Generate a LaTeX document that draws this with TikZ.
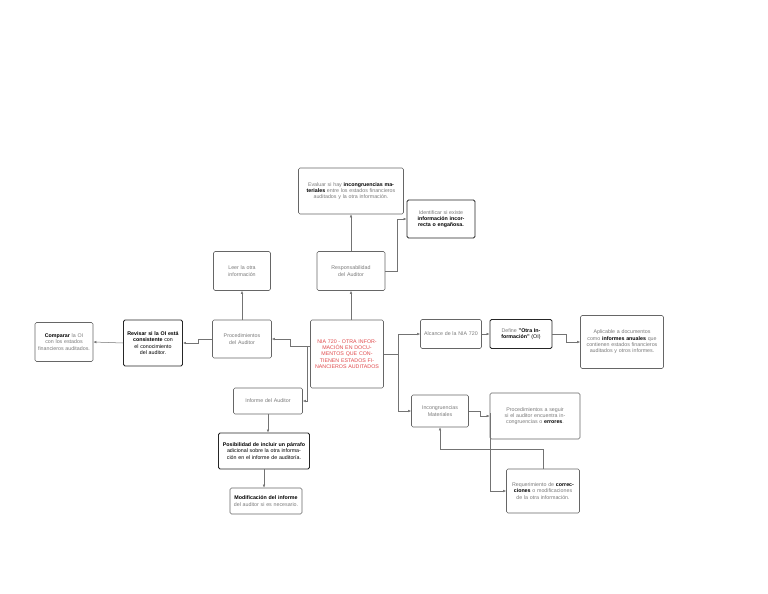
\documentclass[tikz,border=0pt]{standalone}
\usepackage{fontspec}
\setmainfont{Liberation Sans}
\usetikzlibrary{arrows.meta}
\definecolor{tg}{HTML}{7A7A7A}
\definecolor{rd}{HTML}{E0484A}
\begin{document}
\begin{tikzpicture}[x=1pt,y=-1pt,
  bx/.style={draw=black!60,line width=0.6pt,rounded corners=1.5pt,fill=white,align=center,inner sep=1pt,font=\fontsize{5.3}{6.3}\selectfont,text=tg},
  bk/.style={bx,draw=black!85,line width=0.9pt,text=black},
  ar/.style={draw=black!55,line width=0.5pt,-{Latex[length=3pt,width=2.5pt]}},
  ln/.style={draw=black!55,line width=0.5pt}]
\useasboundingbox (0,0) rectangle (768,594);
\node[bx,minimum width=105pt,minimum height=46pt,text width=100pt] (ev) at (351,191) {Evaluar si hay \textcolor{black}{\textbf{incongruencias materiales}} entre los estados financieros auditados y la otra información.};
\node[bk,minimum width=68pt,minimum height=38pt,text width=64pt] (id) at (441,219) {\textcolor{tg}{Identificar si existe} \textbf{información incorrecta o engañosa.}};
\node[bx,minimum width=57pt,minimum height=39pt,text width=52pt] (le) at (242,271) {Leer la otra información};
\node[bx,minimum width=68pt,minimum height=39pt,text width=64pt] (re) at (351,271) {Responsabilidad del Auditor};
\node[bx,minimum width=58pt,minimum height=39pt,text width=54pt] (co) at (64,342) {\textcolor{black}{\textbf{Comparar}} la OI con los estados financieros auditados.};
\node[bk,minimum width=59pt,minimum height=46pt,text width=56pt] (rv) at (153,343) {\textbf{Revisar si la OI está consistente} con el conocimiento del auditor.};
\node[bx,minimum width=59pt,minimum height=38pt,text width=55pt] (pr) at (242,339) {Procedimientos del Auditor};
\node[bx,minimum width=73pt,minimum height=68pt,text width=66pt,text=rd] (nia) at (347,354) {NIA 720 - OTRA INFORMACIÓN EN DOCUMENTOS QUE CONTIENEN ESTADOS FINANCIEROS AUDITADOS};
\node[bx,minimum width=69pt,minimum height=26pt,text width=64pt] (in) at (268,401) {Informe del Auditor};
\node[bx,minimum width=61pt,minimum height=29pt,text width=56pt] (al) at (451,334) {Alcance de la NIA 720};
\node[bk,minimum width=62pt,minimum height=29pt,text width=58pt] (de) at (521,334) {\textcolor{tg}{Define} \textbf{"Otra Información"} (OI)};
\node[bx,minimum width=83pt,minimum height=53pt,text width=78pt] (ap) at (622,342) {Aplicable a documentos como \textcolor{black}{\textbf{informes anuales}} que contienen estados financieros auditados y otros informes.};
\node[bx,minimum width=57pt,minimum height=32pt,text width=52pt] (ic) at (440,411) {Incongruencias Materiales};
\node[bx,minimum width=90pt,minimum height=46pt,text width=84pt] (ps) at (535,416) {Procedimientos a seguir si el auditor encuentra incongruencias o \textcolor{black}{\textbf{errores}}.};
\node[bk,minimum width=91pt,minimum height=36pt,text width=86pt] (po) at (264,451) {\textbf{Posibilidad de incluir un párrafo} adicional sobre la otra información en el informe de auditoría.};
\node[bx,minimum width=72pt,minimum height=26pt,text width=68pt] (mo) at (266,501) {\textcolor{black}{\textbf{Modificación del informe}} del auditor si es necesario.};
\node[bx,minimum width=73pt,minimum height=44pt,text width=68pt] (rq) at (543,491) {Requerimiento de \textcolor{black}{\textbf{correcciones}} o modificaciones de la otra información.};
% connectors
\draw[ar] (nia.north -| re) -- (re.south);
\draw[ar] (re.north) -- (ev.south);
\draw[ar] (re.east) -- (397,271) |- (id.west);
\draw[ar] (nia.west |- 0,346) -- (290,346) |- (pr.east);
\coordinate (b1) at (307,346);
\draw[ar] (b1) |- (in.east);
\draw[ar] (pr.north) -- (le.south);
\draw[ar] (pr.west) -- (198,339) |- (rv.east);
\draw[ar] (rv.west) -- (co.east);
\draw[ar] (nia.east) -- (398,354) |- (al.west);
\draw[ar] (398,354) |- (ic.west);
\draw[ar] (al.east) -- (de.west);
\draw[ar] (de.east) -- (566,334) |- (ap.west);
\draw[ar] (ic.east) -- (480,411) |- (ps.west);
\coordinate (b2) at (490,413);
\draw[ar] (b2) |- (rq.west);
\draw[ar] (rq.north) |- (440,449) -- (ic.south);
\draw[ar] (in.south) -- (in.south |- po.north);
\draw[ar] (po.south) -- (po.south |- mo.north);
\end{tikzpicture}
\end{document}
